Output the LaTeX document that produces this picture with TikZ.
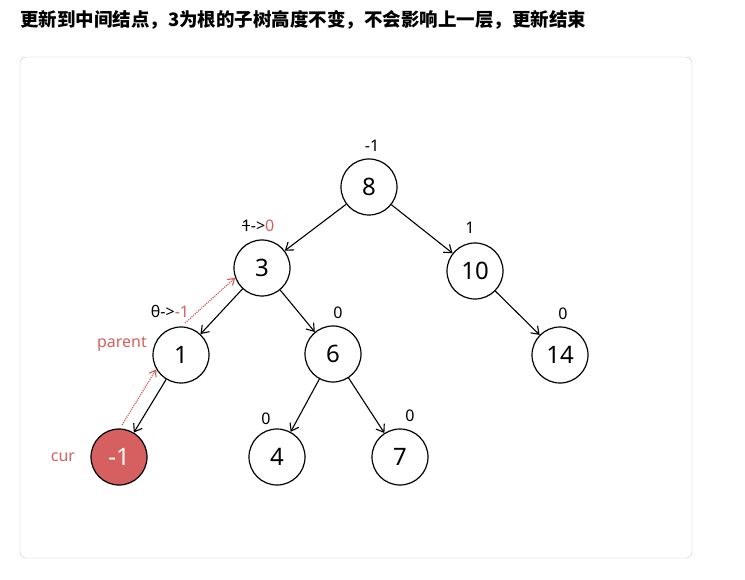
\documentclass[tikz,border=0pt]{standalone}
\usepackage{fontspec}
\setmainfont{Noto Sans}
\newfontfamily\cjk{Noto Sans CJK SC}
\usetikzlibrary{arrows.meta}
\definecolor{hl}{HTML}{D65F5F}
\begin{document}
\begin{tikzpicture}[x=1pt,y=-1pt,
  tn/.style={circle,draw,line width=1.2pt,minimum size=56pt,inner sep=0pt,font=\fontsize{24}{26}\selectfont},
  lb/.style={font=\fontsize{16}{18}\selectfont,inner sep=0pt},
  ed/.style={-{Straight Barb[length=7pt,width=10pt]},line width=1.1pt},
  pp/.style={-{Straight Barb[length=6pt,width=8pt]},hl,densely dotted,line width=1.2pt}]
\useasboundingbox (0,0) rectangle (745,580);
\node[anchor=west,font=\cjk\bfseries\fontsize{18.5}{21}\selectfont,inner sep=0pt] (title) at (20,20) {更新到中间结点，3为根的子树高度不变，不会影响上一层，更新结束};
\draw[gray!45,rounded corners=6pt] (20,57) rectangle (692,558);
\node[tn] (n8) at (369,187) {8};
\node[tn] (n3) at (262,268) {3};
\node[tn] (n10) at (475,271) {10};
\node[tn] (n1) at (181,355) {1};
\node[tn] (n6) at (333,354) {6};
\node[tn] (n14) at (560,355) {14};
\node[tn,fill=hl,text=white] (nm) at (119,457) {-1};
\node[tn] (n4) at (277,457) {4};
\node[tn] (n7) at (400,457) {7};
\draw[ed] (n8) -- (n3);
\draw[ed] (n8) -- (n10);
\draw[ed] (n3) -- (n1);
\draw[ed] (n3) -- (n6);
\draw[ed] (n10) -- (n14);
\draw[ed] (n1) -- (nm);
\draw[ed] (n6) -- (n4);
\draw[ed] (n6) -- (n7);
\coordinate (pa) at (122,425);
\coordinate (pb) at (185,323);
\draw[pp] (pa) -- (n1.210);
\draw[pp] (pb) -- (n3.200);
\node[lb] (b8) at (372,146) {-1};
\node[lb] (b3) at (258,226) {\rlap{\rule[0.35em]{0.55em}{0.8pt}}1->\textcolor{hl}{0}};
\node[lb] (b10) at (470,228) {1};
\node[lb] (b1) at (170,311) {θ->\textcolor{hl}{-1}};
\node[lb] (b6) at (338,313) {0};
\node[lb] (b14) at (563,314) {0};
\node[lb] (b4) at (266,419) {0};
\node[lb] (b7) at (410,416) {0};
\node[lb,text=hl] (par) at (122,344) {parent};
\node[lb,text=hl] (cur) at (63,457) {cur};
\end{tikzpicture}
\end{document}
